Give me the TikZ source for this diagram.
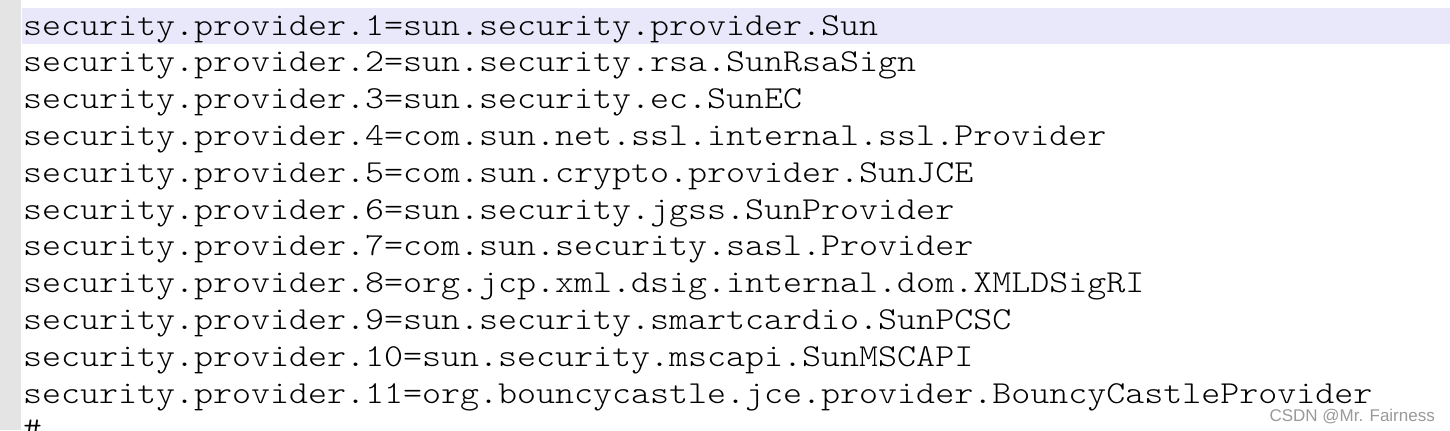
\documentclass[tikz,border=0pt]{standalone}
\usepackage{fontspec}
\newfontfamily\codefont[FakeStretch=1.131]{Latin Modern Mono Light}
\newfontfamily\wmfont{Liberation Sans}
\definecolor{gutter}{HTML}{E4E4E4}
\definecolor{hl}{HTML}{E8E8FA}
\begin{document}
\begin{tikzpicture}[x=1bp,y=-1bp,
  codeline/.style={anchor=base west,inner sep=0pt,font=\codefont\fontsize{32bp}{32bp}\selectfont}]
\useasboundingbox (0,0) rectangle (1450,430);
\begin{scope}
\clip (0,0) rectangle (1450,430);
\fill[white] (0,0) rectangle (1450,430);
\fill[gutter] (0,0) rectangle (21,430);
\fill[hl] (22,8) rectangle (1450,44);
\node[codeline] (l1) at (23,35) {security.provider.1=sun.security.provider.Sun};
\node[codeline] (l2) at (23,71.8) {security.provider.2=sun.security.rsa.SunRsaSign};
\node[codeline] (l3) at (23,108.6) {security.provider.3=sun.security.ec.SunEC};
\node[codeline] (l4) at (23,145.4) {security.provider.4=com.sun.net.ssl.internal.ssl.Provider};
\node[codeline] (l5) at (23,182.2) {security.provider.5=com.sun.crypto.provider.SunJCE};
\node[codeline] (l6) at (23,219) {security.provider.6=sun.security.jgss.SunProvider};
\node[codeline] (l7) at (23,255.8) {security.provider.7=com.sun.security.sasl.Provider};
\node[codeline] (l8) at (23,292.6) {security.provider.8=org.jcp.xml.dsig.internal.dom.XMLDSigRI};
\node[codeline] (l9) at (23,329.4) {security.provider.9=sun.security.smartcardio.SunPCSC};
\node[codeline] (l10) at (23,366.2) {security.provider.10=sun.security.mscapi.SunMSCAPI};
\node[codeline] (l11) at (23,403) {security.provider.11=org.bouncycastle.jce.provider.BouncyCastleProvider};
\node[codeline] (l12) at (23,439.8) {\#};
\node[anchor=base east,inner sep=0pt,text=gray!80,font=\wmfont\fontsize{17bp}{17bp}\selectfont] (wm) at (1435,421) {CSDN @Mr. Fairness};
\end{scope}
\end{tikzpicture}
\end{document}
